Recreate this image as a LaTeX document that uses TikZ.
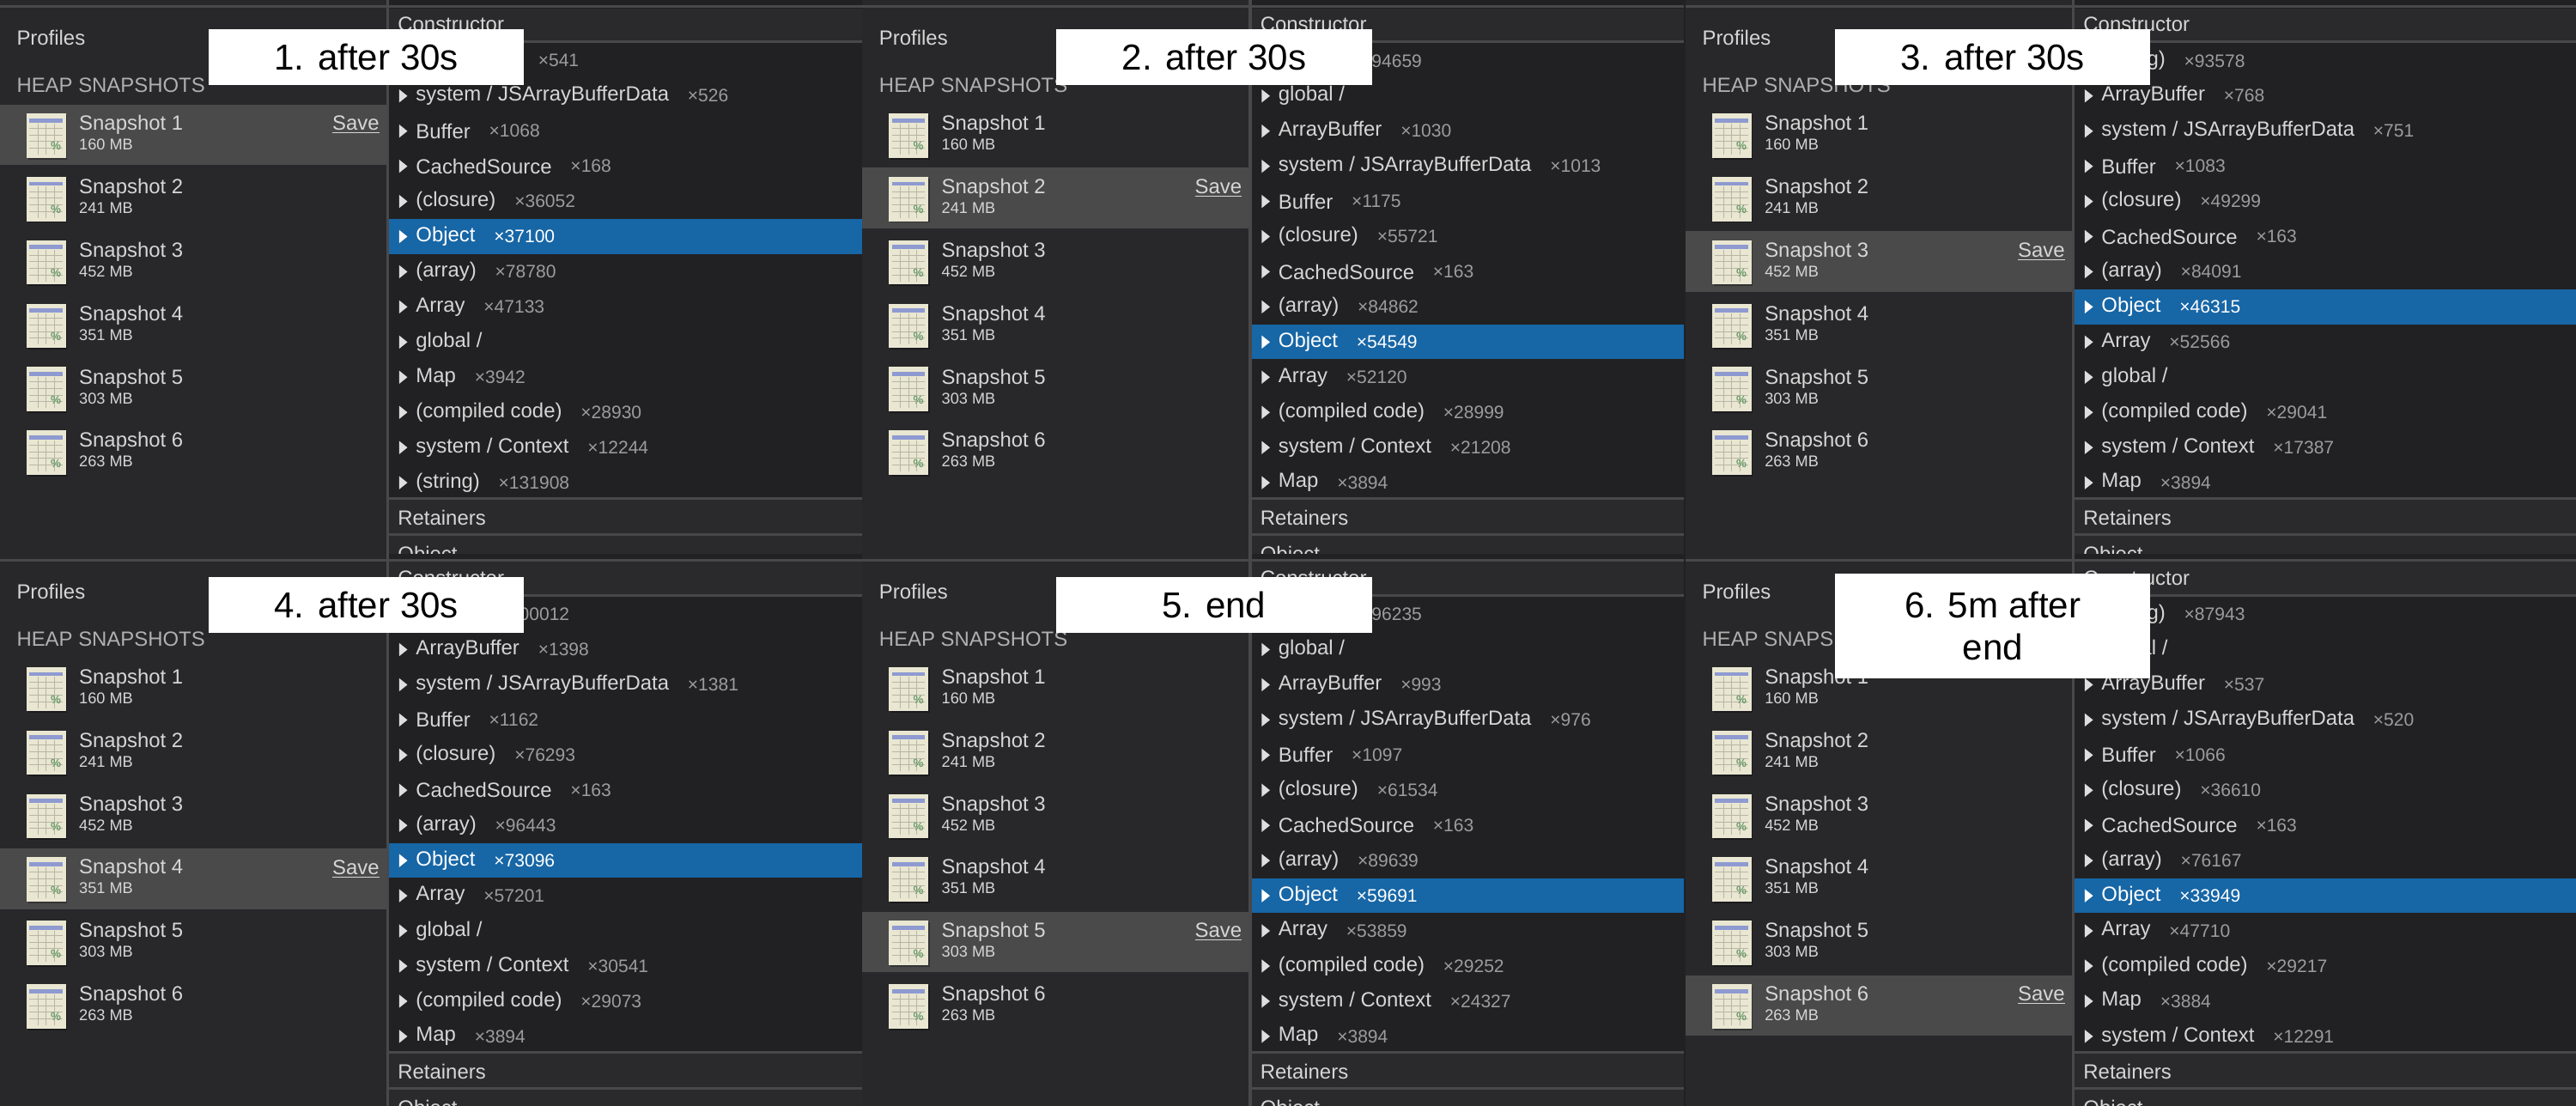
\documentclass[tikz,border=0pt]{standalone}
\usepackage{fontspec}
\setmainfont{Liberation Sans}
\definecolor{sidebg}{HTML}{28282A}
\definecolor{conbg}{HTML}{212123}
\definecolor{hdrbg}{HTML}{2A2A2C}
\definecolor{selbg}{HTML}{4A4A4A}
\definecolor{objbg}{HTML}{1766A6}
\definecolor{divc}{HTML}{48484A}
\definecolor{txt}{HTML}{D6D6D6}
\definecolor{cnt}{HTML}{9C9C9C}
\definecolor{iconbg}{HTML}{E9E7D2}
\definecolor{iconband}{HTML}{8E9AD0}
\definecolor{icongrid}{HTML}{B8B6A4}
\definecolor{iconpct}{HTML}{6A9A6A}
\tikzset{
 rowtxt/.style={text=txt,font=\fontsize{12.5}{14}\selectfont,inner sep=0pt,anchor=west},
 cnttxt/.style={text=cnt,font=\fontsize{11}{13}\selectfont,inner sep=0pt,anchor=west},
 mbtxt/.style={text=txt,font=\fontsize{9.5}{11}\selectfont,inner sep=0pt,anchor=west},
 divline/.style={draw=divc,line width=1.5pt},
 lbl/.style={fill=white,text=black,font=\fontsize{22}{26}\selectfont,minimum width=192pt,minimum height=34pt,inner sep=0pt,align=center}
}
\newcommand\crw[3]{%
 \fill[txt!80] (\OX+243,\OY+33+#1*21.4) -- (\OX+248,\OY+37+#1*21.4) -- (\OX+243,\OY+41+#1*21.4) -- cycle;
 \node[rowtxt] (rn) at (\OX+253,\OY+37+#1*21.4) {#2};
 \node[cnttxt] at ([xshift=11pt]rn.east) {#3};}
\newcommand\objrow[2]{%
 \fill[objbg] (\OX+237,\OY+26.5+#1*21.4) rectangle (\OR,\OY+47.5+#1*21.4);
 \fill[white] (\OX+243,\OY+33+#1*21.4) -- (\OX+248,\OY+37+#1*21.4) -- (\OX+243,\OY+41+#1*21.4) -- cycle;
 \node[rowtxt,text=white] (rn) at (\OX+253,\OY+37+#1*21.4) {Object};
 \node[cnttxt,text=white] at ([xshift=11pt]rn.east) {#2};}
\newcommand\pnl[4]{%
 \gdef\OX{#1}\gdef\OY{#2}\gdef\OR{#3}%
 \fill[sidebg] (#1,#2) rectangle (#1+235,#2+337);
 \fill[conbg] (#1+237,#2) rectangle (#3,#2+337);
 \fill[hdrbg] (#1+237,#2+5) rectangle (#3,#2+25);
 \draw[divline] (#1,#2+4) -- (#3,#2+4);
 \draw[divc,line width=2pt] (#1+236,#2) -- (#1+236,#2+337);
 \draw[divline] (#1+237,#2+25.5) -- (#3,#2+25.5);
 \fill[hdrbg] (#1+237,#2+303) rectangle (#3,#2+337);
 \draw[divline] (#1+237,#2+303.5) -- (#3,#2+303.5);
 \draw[divline] (#1+237,#2+325.5) -- (#3,#2+325.5);
 \node[rowtxt] at (#1+242,#2+15) {Constructor};
 \node[rowtxt] at (#1+242,#2+315) {Retainers};
 \begin{scope}
 \clip (#1+237,#2+326.5) rectangle (#3,#2+337);
 \node[rowtxt] at (#1+242,#2+338.5) {Object};
 \end{scope}
 \node[rowtxt] at (#1+10,#2+23) {Profiles};
 \node[rowtxt,text=cnt!80!white] at (#1+10,#2+52) {HEAP SNAPSHOTS};
 \fill[selbg] (#1,#2+63.5+#4*38.6-38.6) rectangle (#1+235,#2+100.5+#4*38.6-38.6);
 \foreach \k/\s in {1/160,2/241,3/452,4/351,5/303,6/263}{
  \begin{scope}[shift={(#1,#2+\k*38.6-38.6)}]
   \fill[black,opacity=.3] (17,70) rectangle (41,97);
   \fill[iconbg] (16,69) rectangle (40,96);
   \fill[iconband] (18,72) rectangle (38,74.5);
   \foreach \yy in {78,82,86,90}{\draw[icongrid,line width=.4pt] (18,\yy) -- (38,\yy);}
   \foreach \xx in {23,28,33}{\draw[icongrid,line width=.4pt] (\xx,75) -- (\xx,94);}
   \node[font=\fontsize{7}{8}\selectfont\bfseries,text=iconpct,inner sep=0pt] at (34,89) {\%};
   \node[rowtxt] at (48,76) {Snapshot \k};
   \node[mbtxt] at (48,88) {\s{} MB};
  \end{scope}}
 \node[rowtxt,anchor=east] at (#1+231,#2+76+#4*38.6-38.6) {\underline{Save}};
}
\begin{document}
\begin{tikzpicture}[x=1pt,y=-1pt]
\useasboundingbox (0,0) rectangle (1568,673);
\fill[conbg] (0,0) rectangle (1568,673);
% panel 1
\pnl{0}{0}{525}{1}
\crw{0}{ArrayBuffer}{×541}\crw{1}{system / JSArrayBufferData}{×526}\crw{2}{Buffer}{×1068}
\crw{3}{CachedSource}{×168}\crw{4}{(closure)}{×36052}\objrow{5}{×37100}
\crw{6}{(array)}{×78780}\crw{7}{Array}{×47133}\crw{8}{global /}{}
\crw{9}{Map}{×3942}\crw{10}{(compiled code)}{×28930}\crw{11}{system / Context}{×12244}
\crw{12}{(string)}{×131908}
% panel 2
\pnl{525}{0}{1025}{2}
\crw{0}{(string)}{×94659}\crw{1}{global /}{}\crw{2}{ArrayBuffer}{×1030}
\crw{3}{system / JSArrayBufferData}{×1013}\crw{4}{Buffer}{×1175}\crw{5}{(closure)}{×55721}
\crw{6}{CachedSource}{×163}\crw{7}{(array)}{×84862}\objrow{8}{×54549}
\crw{9}{Array}{×52120}\crw{10}{(compiled code)}{×28999}\crw{11}{system / Context}{×21208}
\crw{12}{Map}{×3894}
% panel 3
\pnl{1026}{0}{1568}{3}
\crw{0}{(string)}{×93578}\crw{1}{ArrayBuffer}{×768}\crw{2}{system / JSArrayBufferData}{×751}
\crw{3}{Buffer}{×1083}\crw{4}{(closure)}{×49299}\crw{5}{CachedSource}{×163}
\crw{6}{(array)}{×84091}\objrow{7}{×46315}\crw{8}{Array}{×52566}
\crw{9}{global /}{}\crw{10}{(compiled code)}{×29041}\crw{11}{system / Context}{×17387}
\crw{12}{Map}{×3894}
% panel 4
\pnl{0}{337}{525}{4}
\crw{0}{(string)}{×100012}\crw{1}{ArrayBuffer}{×1398}\crw{2}{system / JSArrayBufferData}{×1381}
\crw{3}{Buffer}{×1162}\crw{4}{(closure)}{×76293}\crw{5}{CachedSource}{×163}
\crw{6}{(array)}{×96443}\objrow{7}{×73096}\crw{8}{Array}{×57201}
\crw{9}{global /}{}\crw{10}{system / Context}{×30541}\crw{11}{(compiled code)}{×29073}
\crw{12}{Map}{×3894}
% panel 5
\pnl{525}{337}{1025}{5}
\crw{0}{(string)}{×96235}\crw{1}{global /}{}\crw{2}{ArrayBuffer}{×993}
\crw{3}{system / JSArrayBufferData}{×976}\crw{4}{Buffer}{×1097}\crw{5}{(closure)}{×61534}
\crw{6}{CachedSource}{×163}\crw{7}{(array)}{×89639}\objrow{8}{×59691}
\crw{9}{Array}{×53859}\crw{10}{(compiled code)}{×29252}\crw{11}{system / Context}{×24327}
\crw{12}{Map}{×3894}
% panel 6
\pnl{1026}{337}{1568}{6}
\crw{0}{(string)}{×87943}\crw{1}{global /}{}\crw{2}{ArrayBuffer}{×537}
\crw{3}{system / JSArrayBufferData}{×520}\crw{4}{Buffer}{×1066}\crw{5}{(closure)}{×36610}
\crw{6}{CachedSource}{×163}\crw{7}{(array)}{×76167}\objrow{8}{×33949}
\crw{9}{Array}{×47710}\crw{10}{(compiled code)}{×29217}\crw{11}{Map}{×3884}
\crw{12}{system / Context}{×12291}
% labels
\node[lbl] (l1) at (223,35) {1. after 30s};
\node[lbl] (l2) at (739,35) {2. after 30s};
\node[lbl] (l3) at (1213,35) {3. after 30s};
\node[lbl] (l4) at (223,368) {4. after 30s};
\node[lbl] (l5) at (739,368) {5. end};
\node[lbl,minimum height=64pt] (l6) at (1213,381) {6. 5m after\\end};
\end{tikzpicture}
\end{document}
